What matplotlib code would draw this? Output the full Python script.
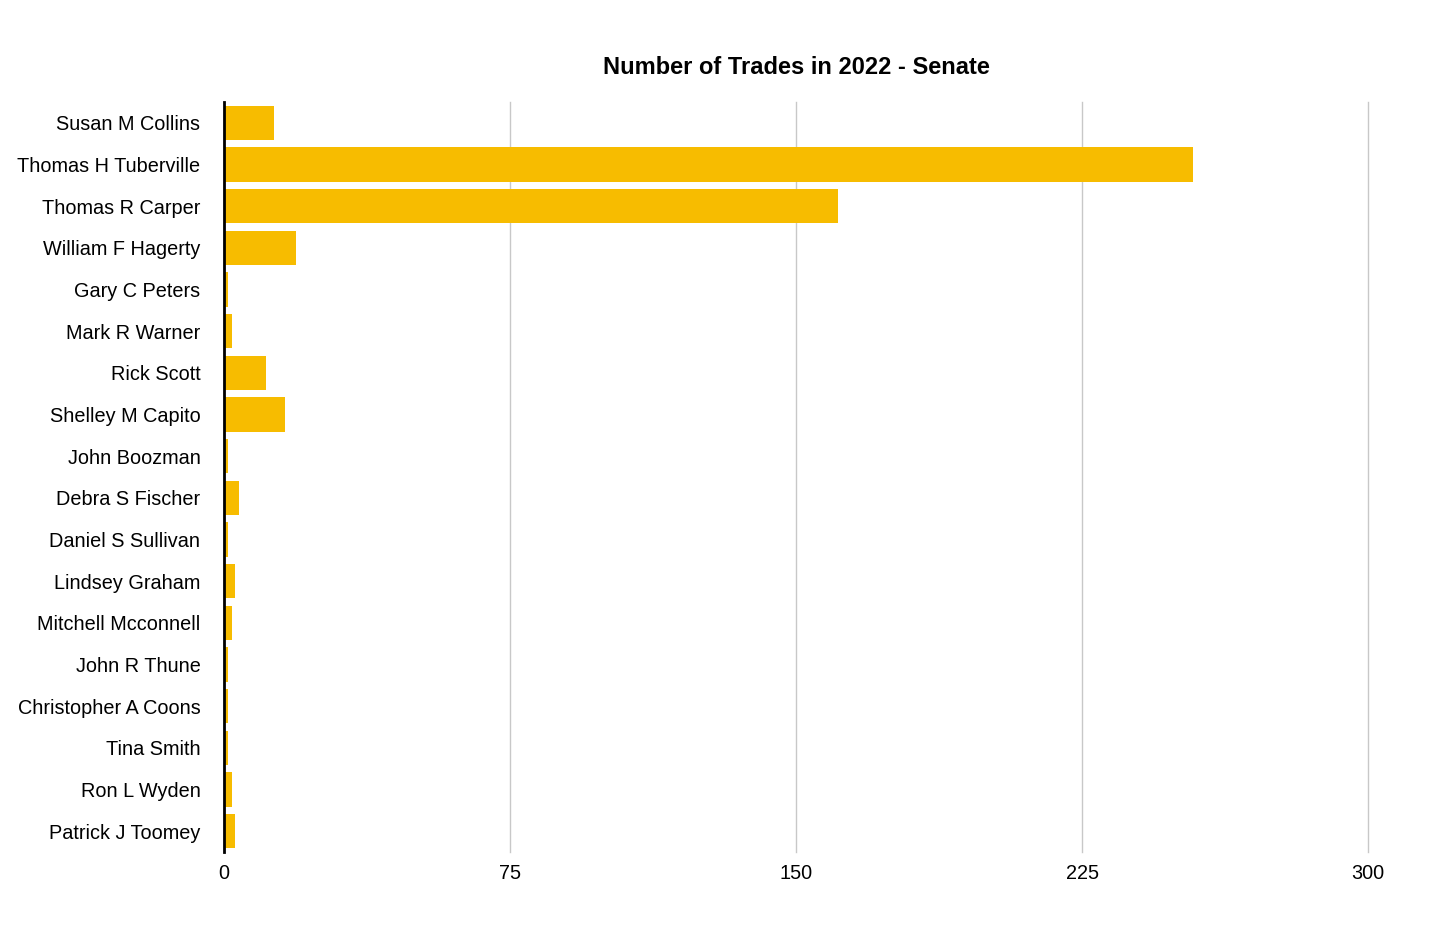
import matplotlib
matplotlib.use("Agg")
import matplotlib.pyplot as plt

names = ["Susan M Collins", "Thomas H Tuberville", "Thomas R Carper", "William F Hagerty",
         "Gary C Peters", "Mark R Warner", "Rick Scott", "Shelley M Capito", "John Boozman",
         "Debra S Fischer", "Daniel S Sullivan", "Lindsey Graham", "Mitchell Mcconnell",
         "John R Thune", "Christopher A Coons", "Tina Smith", "Ron L Wyden", "Patrick J Toomey"]
trades = [13, 254, 161, 19, 1, 2, 11, 16, 1, 4, 1, 3, 2, 1, 1, 1, 2, 3]
ticks = [0, 75, 150, 225, 300]

plt.rcParams['font.family'] = ['Liberation Sans', 'DejaVu Sans']

fig = plt.figure(figsize=(14.5, 9.34), dpi=100)
ax = fig.add_axes([0.1545, 0.0878, 0.789, 0.803])

pos = list(range(len(names)))
ax.barh(pos, trades, height=0.82, color="#F7BC00", zorder=3)

ax.set_ylim(len(names) - 0.5, -0.5)
ax.set_xlim(0, 300)
ax.set_xticks(ticks)
ax.set_xticklabels([str(t) for t in ticks], fontsize=14.3)
ax.set_yticks(pos)
ax.set_yticklabels(names, fontsize=14.3)
ax.tick_params(axis='y', length=0, pad=17)
ax.tick_params(axis='x', length=0, pad=9)

ax.grid(axis='x', color="#c8c8c8", linewidth=1, zorder=0)
for gl in ax.get_xgridlines():
    gl.set_clip_on(False)
for s in ["top", "right", "bottom"]:
    ax.spines[s].set_visible(False)
ax.spines["left"].set_linewidth(2)
ax.spines["left"].set_color("black")
ax.spines["left"].set_zorder(4)

ax.set_title("Number of Trades in 2022 - Senate", fontsize=17, fontweight="bold", pad=20)

fig.savefig("out.png", dpi=100)
